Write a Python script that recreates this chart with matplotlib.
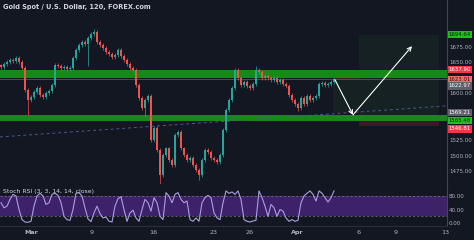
import matplotlib
matplotlib.use("Agg")
import matplotlib.pyplot as plt
import matplotlib.transforms as mtransforms

first_day = -2.5      # trading days from Mar 2
step = 0.25
closes = [1642.4, 1647.3, 1650.5, 1653.7, 1652.1, 1656.9, 1650.5, 1640.8, 1605.5, 1589.4,
          1594.2, 1602.3, 1608.7, 1597.4, 1594.2, 1600.6, 1603.9, 1613.5, 1645.7, 1644.1,
          1640.8, 1642.4, 1639.2, 1640.8, 1656.9, 1669.8, 1677.8, 1682.6, 1679.4, 1689.1,
          1695.5, 1698.7, 1682.6, 1677.8, 1673.0, 1666.6, 1663.4, 1658.5, 1661.7, 1669.8,
          1660.1, 1653.7, 1647.3, 1640.8, 1637.6, 1613.5, 1592.6, 1576.5, 1589.4, 1595.8,
          1525.1, 1544.3, 1508.9, 1468.8, 1500.9, 1512.1, 1492.9, 1484.9, 1533.1, 1537.9,
          1512.1, 1500.9, 1492.9, 1496.1, 1484.9, 1476.9, 1468.8, 1492.9, 1508.9, 1505.7,
          1496.1, 1492.9, 1489.7, 1500.9, 1541.2, 1573.3, 1589.4, 1608.7, 1637.6, 1624.8,
          1613.5, 1618.3, 1611.9, 1608.7, 1615.1, 1637.6, 1634.4, 1624.8, 1628.0, 1624.8,
          1621.5, 1624.8, 1618.3, 1621.5, 1615.1, 1611.9, 1597.4, 1589.4, 1583.0, 1576.5,
          1592.6, 1583.0, 1595.8, 1589.4, 1592.6, 1595.8, 1615.1, 1616.7, 1613.5, 1615.1,
          1618.3, 1623.0]
# notable wick extremes: candle index -> price
wick_highs = {31: 1703.5, 78: 1641.0, 85: 1644.0}
wick_lows = {9: 1565.0, 29: 1644.0, 48: 1562.0, 53: 1452.0, 66: 1461.0, 99: 1571.0}

stoch_k = [60, 45, 50, 70, 85, 80, 40, 10, 3, 2, 5, 50, 80, 88, 80, 55, 60, 85, 88, 82,
           60, 20, 10, 8, 40, 88, 90, 80, 45, 12, 4, 30, 50, 28, 15, 18, 5, 3, 50, 72,
           78, 40, 5, 30, 38, 15, 5, 40, 70, 60, 35, 75, 60, 20, 10, 90, 80, 60, 85, 90,
           70, 60, 65, 10, 5, 15, 5, 60, 75, 82, 75, 30, 15, 10, 60, 95, 88, 92, 85, 95,
           70, 10, 5, 3, 6, 8, 95, 75, 50, 20, 55, 45, 20, 40, 35, 15, 5, 10, 5, 8,
           60, 80, 88, 95, 85, 65, 95, 88, 75, 62, 75, 95]

bands = [(1625.5, 1637.0), (1555.0, 1564.5)]
level_line = 1623.01
trend_days = [-2.58, 34.67]
trend_prices = [1530, 1580]

short_days = [25.2, 27.3]
short_entry, short_stop, short_target = 1623.01, 1637.90, 1569.21
long_days = [27.3, 34.0]
long_entry, long_stop, long_target = 1565.48, 1546.81, 1694.64

arrow_path_days = [25.33, 26.83, 31.75]
arrow_path_prices = [1622, 1565.5, 1676]

price_ticks = [1475, 1500, 1525, 1600, 1650, 1675]
tick_days = [0, 5.08, 10.17, 15.25, 18.25, 22.17, 27.33, 30.42, 34.5]
tick_labels = ["Mar", "9", "16", "23", "26", "Apr", "6", "9", "13"]

# price tags: text, background, text colour, shift (to keep them apart)
tags = [("1694.64", "#1fbf1f", "#0b1f0b", 0),
        ("1637.90", "#f23645", "white", 1),
        ("1623.01", "#e57373", "#3a0d0d", 0),
        ("1622.97", "#5d606b", "white", -11),
        ("1569.21", "#5d606b", "white", 0),
        ("1565.48", "#1fbf1f", "#0b1f0b", -8.5),
        ("1546.81", "#f23645", "white", -4)]

BG = "#131722"
TXT = "#b2b5be"
UP, DOWN = "#26a69a", "#ef5350"
LINE = "#2a2e39"

fig = plt.figure(figsize=(4.74, 2.4), dpi=100, facecolor=BG)
ax = fig.add_axes([0, 1 - 184 / 240, 447 / 474, 184 / 240], facecolor=BG)
ax2 = fig.add_axes([0, 1 - 226 / 240, 447 / 474, 42 / 240], facecolor=BG, sharex=ax)

# candles
days = [first_day + i * step for i in range(len(closes))]
opens = [closes[0] + 3] + closes[:-1]
for i, (d, o, c) in enumerate(zip(days, opens, closes)):
    col = UP if c >= o else DOWN
    hi = wick_highs.get(i, max(o, c) + 2.5)
    lo = wick_lows.get(i, min(o, c) - 2.5)
    ax.vlines(d, lo, hi, color=col, lw=0.5, zorder=3)
    ax.bar(d, max(abs(c - o), 0.8), bottom=min(o, c), width=step * 0.6,
           color=col, lw=0, zorder=3)

# zones and levels
for lo, hi in bands:
    ax.axhspan(lo, hi, color="#168a16", lw=0, zorder=2)
ax.axhline(level_line, color="#8b3434", lw=0.7, zorder=2)
ax.plot(trend_days, trend_prices, color="#4a5a8c", lw=0.7, ls=(0, (3, 3)), zorder=2)

ax.fill_between(short_days, short_entry, short_stop, color="#c62828", alpha=0.25, lw=0, zorder=1)
ax.fill_between(short_days, short_target, short_entry, color="#2e7d32", alpha=0.10, lw=0, zorder=1)
ax.fill_between(long_days, long_entry, long_target, color="#2e7d32", alpha=0.10, lw=0, zorder=1)
ax.fill_between(long_days, long_stop, long_entry, color="#c62828", alpha=0.22, lw=0, zorder=1)

for k in range(len(arrow_path_days) - 1):
    ax.annotate("", xy=(arrow_path_days[k + 1], arrow_path_prices[k + 1]),
                xytext=(arrow_path_days[k], arrow_path_prices[k]),
                arrowprops=dict(arrowstyle="->", color="white", lw=0.8,
                                shrinkA=0, shrinkB=0, mutation_scale=7), zorder=5)

ax.set_xlim(-31 / 12, (447 - 31) / 12)
ax.set_ylim(1454.3, 1750.2)
ax.yaxis.tick_right()
ax.set_yticks(price_ticks)
ax.set_yticklabels([f"{v:.2f}" for v in price_ticks])
ax.tick_params(axis="y", colors=TXT, labelsize=4.0, length=0, pad=1.5)
ax.tick_params(axis="x", bottom=False, labelbottom=False)
for s in ax.spines.values():
    s.set_visible(False)
ax.spines["right"].set_visible(True)
ax.spines["right"].set_color("#434651")
ax.spines["bottom"].set_visible(True)
ax.spines["bottom"].set_color(LINE)

tr = mtransforms.blended_transform_factory(ax.transAxes, ax.transData)
for text, bgc, fc, shift in tags:
    ax.text(1.004, float(text) + shift, text, transform=tr, fontsize=3.9, color=fc,
            va="center", ha="left", clip_on=False, zorder=10,
            bbox=dict(boxstyle="square,pad=0.2", fc=bgc, ec="none"))

ax.text(3 / 447, 1 - 7 / 184, "Gold Spot / U.S. Dollar, 120, FOREX.com", transform=ax.transAxes,
        fontsize=4.8, color="#d1d4dc", fontweight="bold", va="center", ha="left")

# stoch rsi pane
k_days = [first_day + i * step for i in range(len(stoch_k))]
ax2.axhspan(20, 80, color="#3d2169", lw=0)
ax2.axhline(80, color="#787b86", lw=0.5, ls=(0, (3, 3)))
ax2.axhline(20, color="#787b86", lw=0.5, ls=(0, (3, 3)))
ax2.plot(k_days, stoch_k, color="#ab9ee0", lw=0.8)
ax2.set_ylim(-8.9, 115.6)
ax2.yaxis.tick_right()
ax2.set_yticks([0, 40, 80])
ax2.set_yticklabels(["0.00", "40.00", "80.00"])
ax2.tick_params(axis="y", colors=TXT, labelsize=4.0, length=0, pad=1.5)
ax2.set_xticks(tick_days)
ax2.set_xticklabels(tick_labels)
ax2.tick_params(axis="x", colors=TXT, labelsize=4.6, length=0, pad=3)
for lab in ax2.get_xticklabels():
    if lab.get_text() in ("Mar", "Apr"):
        lab.set_fontweight("bold")
for s in ax2.spines.values():
    s.set_visible(False)
ax2.spines["right"].set_visible(True)
ax2.spines["right"].set_color("#434651")
ax2.spines["bottom"].set_visible(True)
ax2.spines["bottom"].set_color(LINE)
ax2.text(3 / 447, 0.83, "Stoch RSI (3, 3, 14, 14, close)", transform=ax2.transAxes,
         fontsize=4.4, color="#d1d4dc", va="center", ha="left")

fig.savefig("out.png", dpi=100, facecolor=BG)
